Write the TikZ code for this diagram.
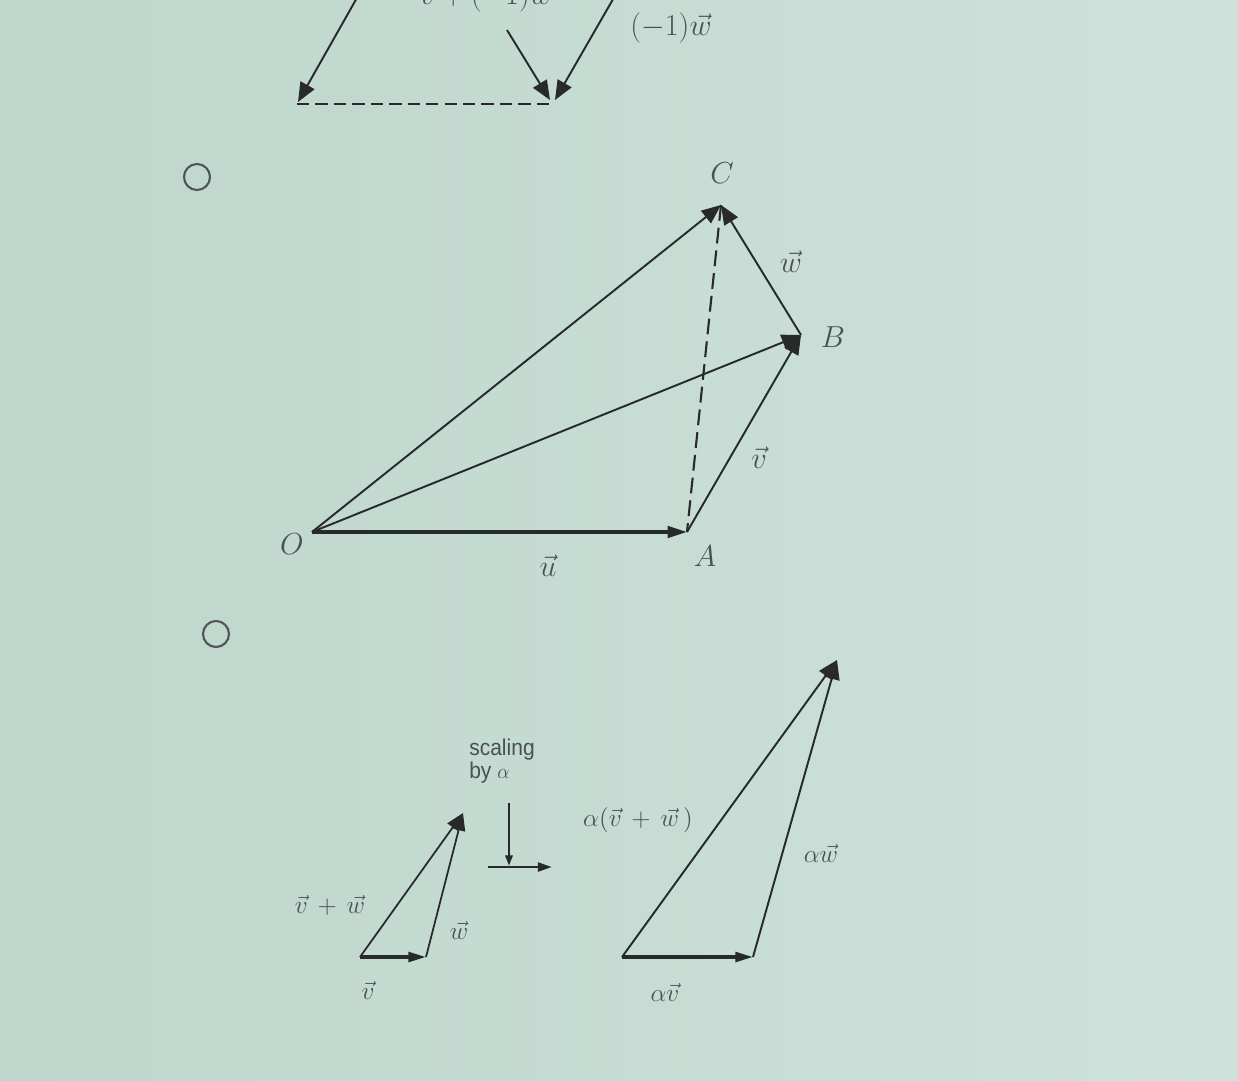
\documentclass[tikz,border=0pt]{standalone}
\usepackage{fontspec}
\newfontfamily\helv{Liberation Sans}
\usetikzlibrary{arrows.meta}
\definecolor{bgl}{RGB}{190,214,204}
\definecolor{bgr}{RGB}{206,226,219}
\definecolor{ink}{RGB}{40,42,42}
\definecolor{lab}{RGB}{75,80,80}
\begin{document}
\begin{tikzpicture}[x=0.02cm,y=-0.02cm,
  vec/.style={draw=ink,line width=1.1pt,-{Triangle[length=11pt,width=9pt]}},
  svec/.style={draw=ink,line width=1pt,-{Triangle[length=10pt,width=7.5pt]}},
  hvec/.style={draw=ink,line width=1.8pt,-{Triangle[length=10pt,width=5.5pt]}},
  dash line/.style={draw=ink,line width=1.2pt,dash pattern=on 7pt off 3.5pt},
  lbl/.style={text=lab,inner sep=0pt,font=\fontsize{17}{20}\selectfont},
  slbl/.style={text=lab,inner sep=0pt,font=\fontsize{15}{18}\selectfont},
  radio/.style={draw=ink!80,line width=1.2pt,circle,minimum size=0.52cm,inner sep=0pt}]
\shade[left color=bgl,right color=bgr] (0,0) rectangle (1238,1080);
\useasboundingbox (0,0) rectangle (1238,1080);
\clip (0,0) rectangle (1238,1080);

% ---- top (cut-off) figure ----
\coordinate (t1s) at (358,-4);
\coordinate (t1e) at (298,102);
\coordinate (t2s) at (507,30);
\coordinate (t2e) at (550,100);
\coordinate (t3s) at (616,-6);
\coordinate (t3e) at (555,100);
\coordinate (d1) at (297,104);
\coordinate (d2) at (553,104);
\draw[dash line] (d1) -- (d2);
\draw[vec] (t1s) -- (t1e);
\draw[vec] (t2s) -- (t2e);
\draw[vec] (t3s) -- (t3e);
\node[lbl] (tl1) at (486,-3) {$\vec v+(-1)\vec w$};
\node[lbl] (tl2) at (671,28) {$(-1)\vec w$};

% ---- radio buttons ----
\node[radio] (r1) at (197,177) {};
\node[radio] (r2) at (216,634) {};

% ---- middle figure ----
\coordinate (O) at (312,532);
\coordinate (A) at (687,532);
\coordinate (B) at (801,335);
\coordinate (C) at (721,205);
\draw[dash line,dash pattern=on 9pt off 4pt] (C) -- (A);
\draw[hvec,-{Triangle[length=11pt,width=6.5pt]}] (O) -- (A);
\draw[vec] (O) -- (B);
\draw[vec] (O) -- (C);
\draw[vec] (A) -- (B);
\draw[vec] (B) -- (C);
\node[lbl] (lO) at (292,544) {$O$};
\node[lbl] (lA) at (705,556) {$A$};
\node[lbl] (lB) at (833,337) {$B$};
\node[lbl] (lC) at (722,173) {$C$};
\node[lbl] (lu) at (548,566) {$\vec u$};
\node[lbl] (lv) at (759,458) {$\vec v$};
\node[lbl] (lw) at (791,262) {$\vec w$};

% ---- bottom figure ----
\coordinate (P0) at (360,957);
\coordinate (P1) at (426,957);
\coordinate (P2) at (463,813);
\draw[svec] (P0) -- (P2);
\draw[svec] (P1) -- (P2);
\draw[hvec] (P0) -- (P1);
\node[slbl] (lvw) at (330,905) {$\vec v\,+\,\vec w$};
\node[slbl] (lw2) at (459,930) {$\vec w$};
\node[slbl] (lv2) at (368,990) {$\vec v$};

\coordinate (s1) at (509,803);
\coordinate (s2) at (509,866);
\coordinate (s3) at (488,867);
\coordinate (s4) at (552,867);
\draw[draw=ink,line width=1.6pt,-{Triangle[length=6pt,width=4pt]}] (s1) -- (s2);
\draw[draw=ink,line width=1.6pt,-{Triangle[length=8pt,width=5pt]}] (s3) -- (s4);
\node[text=lab,inner sep=0pt,align=left,font=\helv\fontsize{13}{13.5}\selectfont,xscale=0.92] (sc) at (502,761) {scaling\\by $\alpha$};

\coordinate (Q0) at (622,957);
\coordinate (Q1) at (753,957);
\coordinate (Q2) at (837,660);
\draw[vec] (Q0) -- (Q2);
\draw[vec] (Q1) -- (Q2);
\draw[hvec] (Q0) -- (Q1);
\node[slbl] (la1) at (638,820) {$\alpha(\vec v\,+\,\vec w\,)$};
\node[slbl] (la2) at (821,853) {$\alpha\vec w$};
\node[slbl] (la3) at (665,992) {$\alpha\vec v$};
\end{tikzpicture}
\end{document}
